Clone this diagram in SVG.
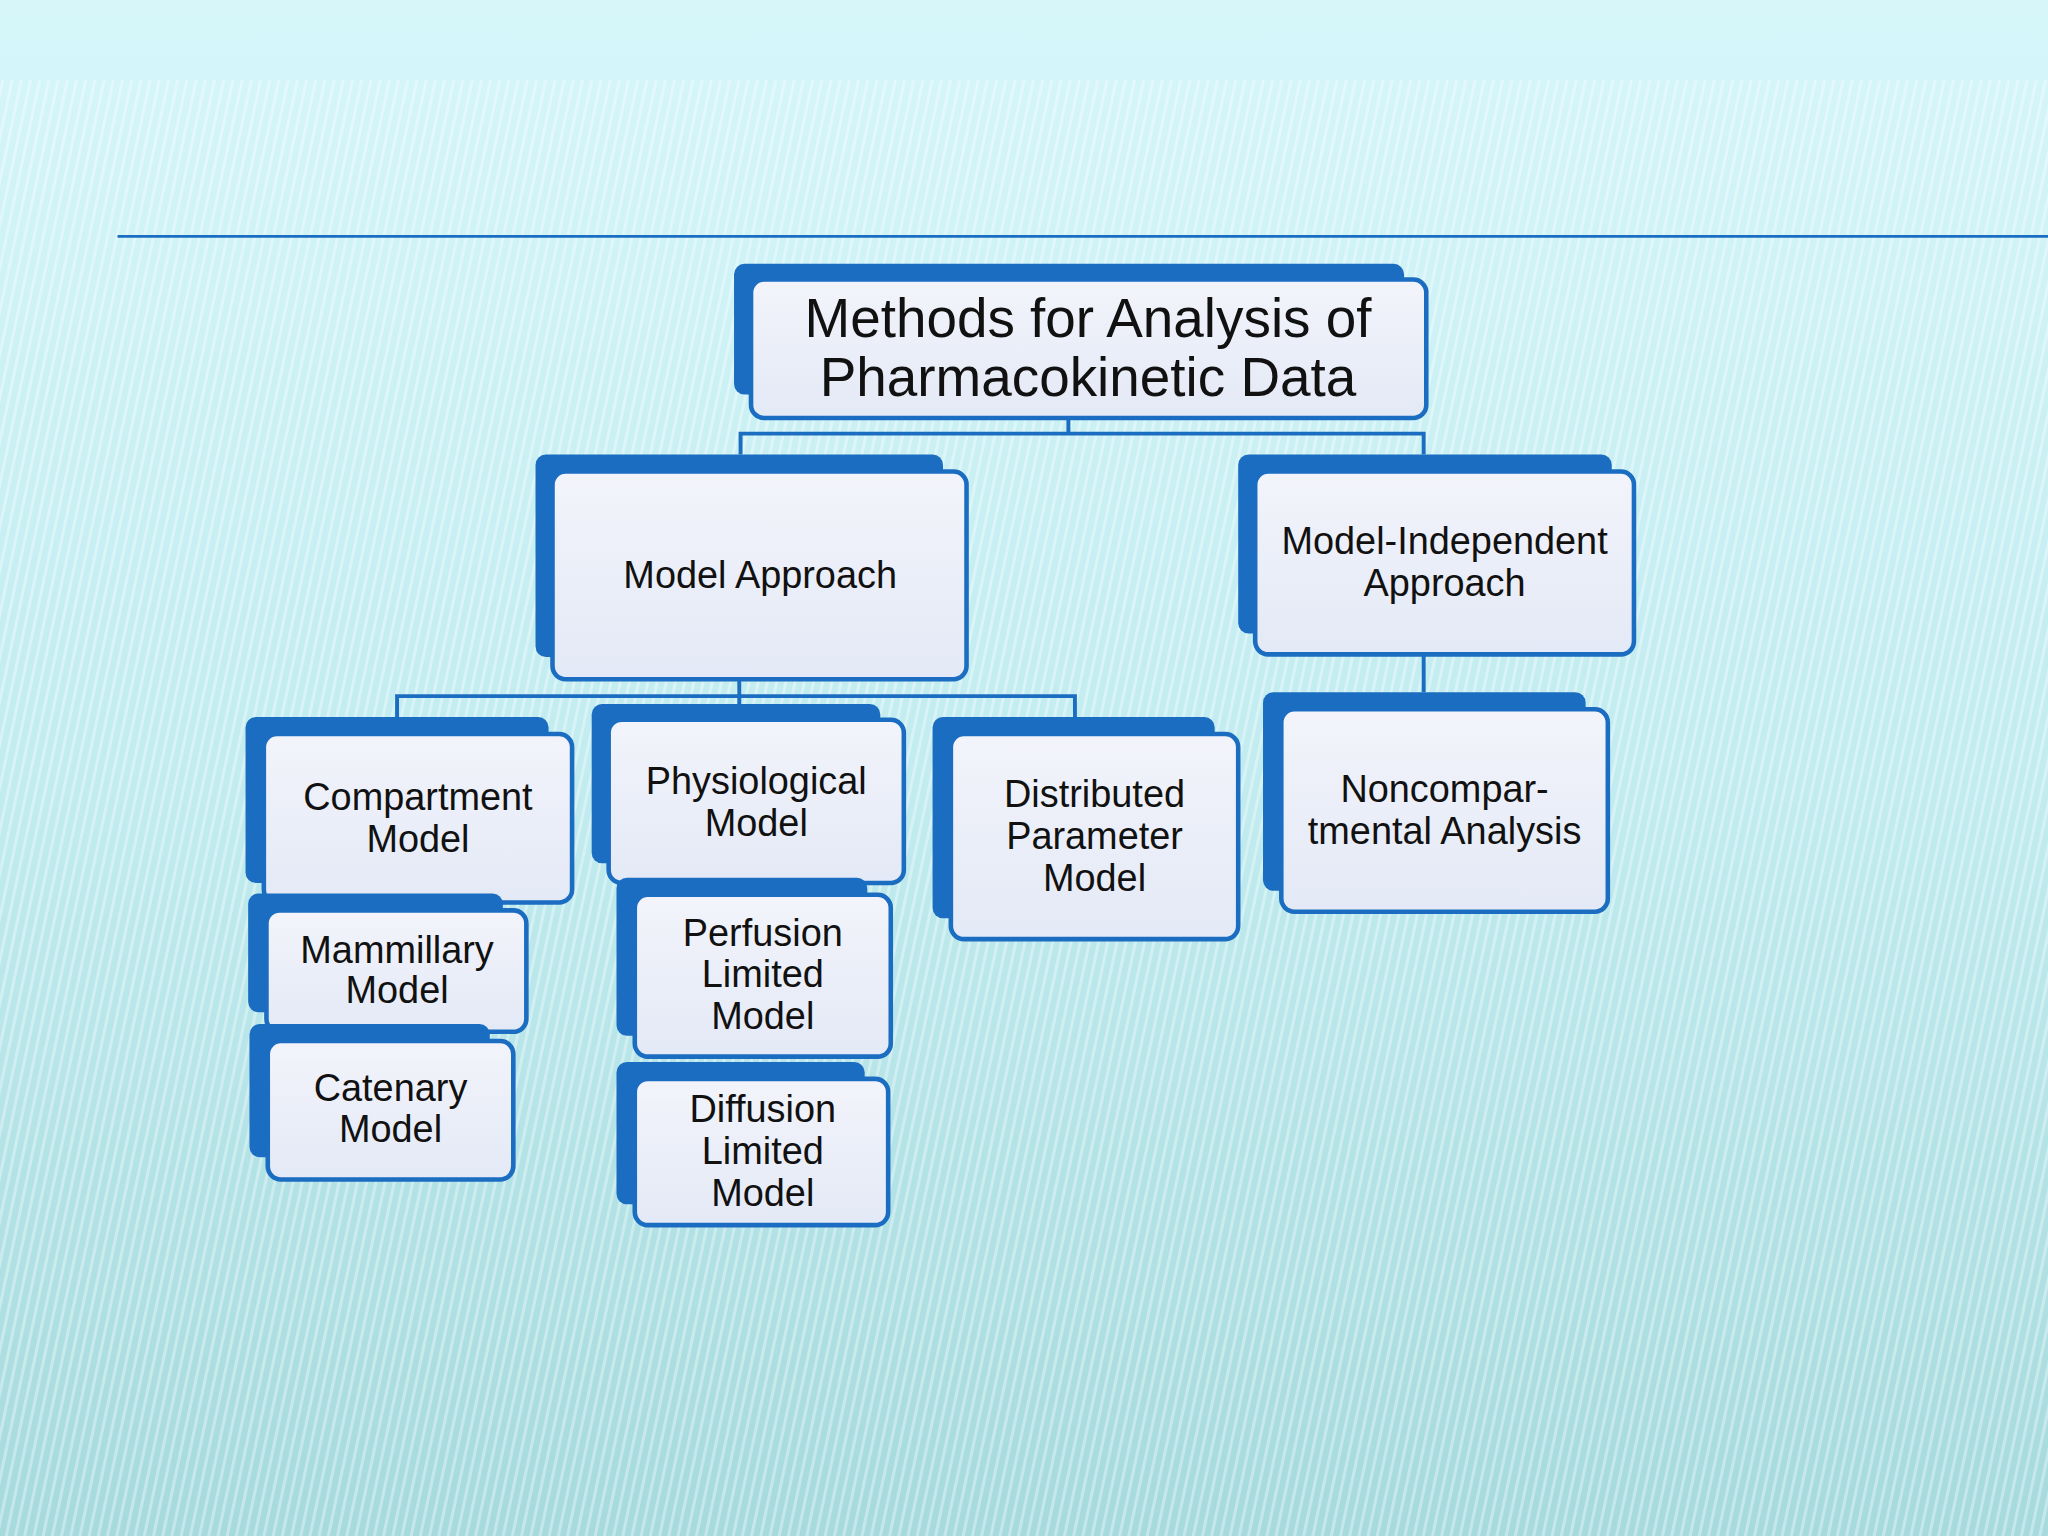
<svg xmlns="http://www.w3.org/2000/svg" width="2048" height="1536" viewBox="0 0 2048 1536">
<defs>
<linearGradient id="bg" x1="0" y1="0" x2="0" y2="1"><stop offset="0" stop-color="#d6f6fa"/><stop offset="0.5" stop-color="#c2ecf0"/><stop offset="1" stop-color="#a6dadd"/></linearGradient>
<pattern id="st" width="9" height="40" patternUnits="userSpaceOnUse" patternTransform="rotate(12)"><rect width="3" height="40" fill="#ffffff" opacity="0.35"/></pattern>
<linearGradient id="fr" x1="0" y1="0" x2="0" y2="1"><stop offset="0" stop-color="#f3f4fb"/><stop offset="1" stop-color="#e3e9f6"/></linearGradient>
<style>
.bk{fill:#1b6dc1}
.fr{fill:url(#fr);stroke:#1b6dc1;stroke-width:3.5}
.t{font-family:"Liberation Sans",Arial,sans-serif;fill:#111;text-anchor:middle;font-size:29px}
.tt{font-size:42px}
.c{fill:none;stroke:#1b6dc1;stroke-width:3}
</style>
</defs>
<rect width="2048" height="1536" fill="url(#bg)"/>
<rect y="80" width="2048" height="1456" fill="url(#st)"/>
<g transform="scale(1.30612)">
<line x1="90" y1="181" x2="1568" y2="181" stroke="#1b6dc1" stroke-width="2"/>
<g id="connectors">
<path class="c" d="M818 320V332M567 348V332H1090V348M566 520V533M304 549V533H823V549M566 533V539M1090 501V530"/>
</g>
<g id="title"><rect class="bk" x="562" y="202" width="513" height="100" rx="8"/><rect class="fr" x="575" y="214" width="517" height="106" rx="10"/>
<text class="t tt" x="833" y="258">Methods for Analysis of</text><text class="t tt" x="833" y="303">Pharmacokinetic Data</text></g>
<g id="model"><rect class="bk" x="410" y="348" width="312" height="155" rx="8"/><rect class="fr" x="423" y="361" width="317" height="159" rx="10"/>
<text class="t" x="582" y="450">Model Approach</text></g>
<g id="indep"><rect class="bk" x="948" y="348" width="286" height="137" rx="8"/><rect class="fr" x="961" y="361" width="290" height="140" rx="10"/>
<text class="t" x="1106" y="424">Model-Independent</text><text class="t" x="1106" y="456">Approach</text></g>
<g id="compartment"><rect class="bk" x="188" y="549" width="232" height="127" rx="8"/><rect class="fr" x="202" y="562" width="236" height="129" rx="10"/>
<text class="t" x="320" y="620">Compartment</text><text class="t" x="320" y="652">Model</text></g>
<g id="physio"><rect class="bk" x="453" y="539" width="221" height="122" rx="8"/><rect class="fr" x="466" y="551" width="226" height="125" rx="10"/>
<text class="t" x="579" y="608">Physiological</text><text class="t" x="579" y="640">Model</text></g>
<g id="distributed"><rect class="bk" x="714" y="549" width="216" height="154" rx="8"/><rect class="fr" x="728" y="562" width="220" height="157" rx="10"/>
<text class="t" x="838" y="618">Distributed</text><text class="t" x="838" y="650">Parameter</text><text class="t" x="838" y="682">Model</text></g>
<g id="noncomp"><rect class="bk" x="967" y="530" width="247" height="152" rx="8"/><rect class="fr" x="981" y="543" width="250" height="155" rx="10"/>
<text class="t" x="1106" y="614">Noncompar-</text><text class="t" x="1106" y="646">tmental Analysis</text></g>
<g id="mammillary"><rect class="bk" x="190" y="684" width="195" height="91" rx="8"/><rect class="fr" x="204" y="697" width="199" height="93" rx="10"/>
<text class="t" x="304" y="737">Mammillary</text><text class="t" x="304" y="768">Model</text></g>
<g id="catenary"><rect class="bk" x="191" y="784" width="184" height="102" rx="8"/><rect class="fr" x="205" y="797" width="188" height="106" rx="10"/>
<text class="t" x="299" y="843">Catenary</text><text class="t" x="299" y="874">Model</text></g>
<g id="perfusion"><rect class="bk" x="472" y="672" width="192" height="121" rx="8"/><rect class="fr" x="486" y="685" width="196" height="124" rx="10"/>
<text class="t" x="584" y="724">Perfusion</text><text class="t" x="584" y="756">Limited</text><text class="t" x="584" y="788">Model</text></g>
<g id="diffusion"><rect class="bk" x="472" y="813" width="190" height="109" rx="8"/><rect class="fr" x="486" y="826" width="194" height="112" rx="10"/>
<text class="t" x="584" y="859">Diffusion</text><text class="t" x="584" y="891">Limited</text><text class="t" x="584" y="923">Model</text></g>
</g>
</svg>
